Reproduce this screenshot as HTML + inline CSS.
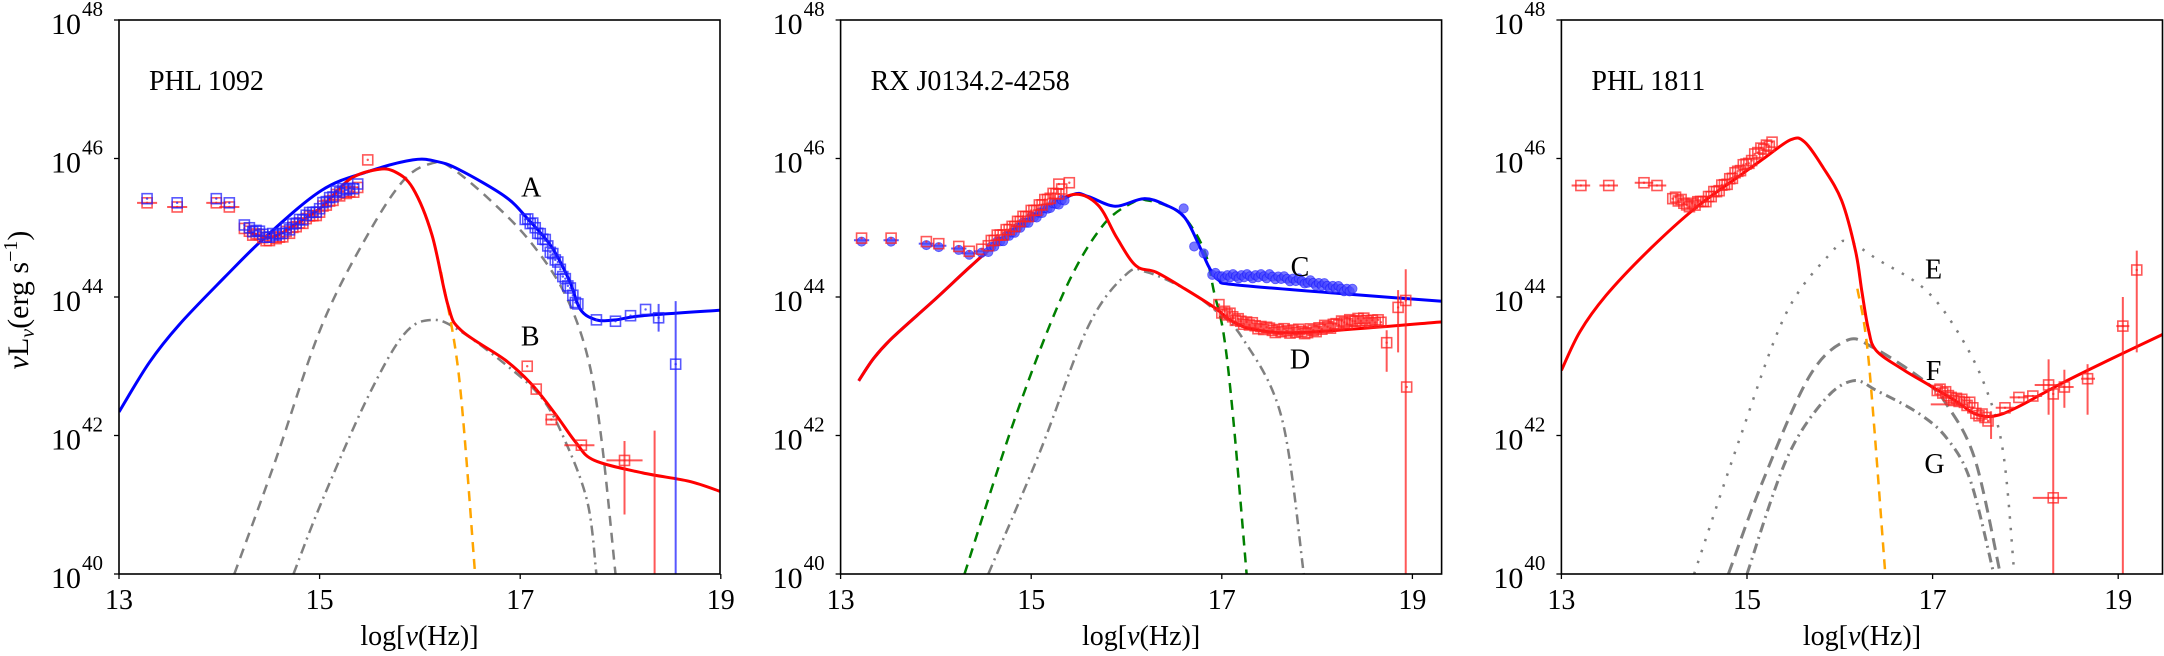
<!DOCTYPE html>
<html><head><meta charset="utf-8">
<style>
html,body{margin:0;padding:0;background:#fff;}
svg{display:block;}
text{font-family:"Liberation Serif","DejaVu Serif",serif;}
</style></head>
<body>
<svg id="s" width="2164" height="656" viewBox="0 0 2164 656" xmlns="http://www.w3.org/2000/svg" font-family="Liberation Serif, DejaVu Serif, serif">
</svg>
<script>
const NS="http://www.w3.org/2000/svg";
const svg=document.getElementById('s');
const FF='"Liberation Serif","DejaVu Serif",serif';
const P=[{x0:119,s:100.3,r:720,t:"PHL 1092"},{x0:840.6,s:95.3,r:1441.6,t:"RX J0134.2-4258"},{x0:1561.4,s:92.8,r:2162.5,t:"PHL 1811"}];
const Y=ly=>574-(ly-40)*69.25;
function el(n,a,parent){const e=document.createElementNS(NS,n);for(const k in a)e.setAttribute(k,a[k]);if(n==='text'){e.setAttribute('font-family',FF);}(parent||svg).appendChild(e);return e;}
function X(p,lx){return P[p].x0+(lx-13)*P[p].s;}
function crPath(pts){
  if(pts.length<2)return "";
  let d="M"+pts[0][0].toFixed(1)+","+pts[0][1].toFixed(1);
  for(let i=0;i<pts.length-1;i++){
    const p0=pts[i-1]||pts[i],p1=pts[i],p2=pts[i+1],p3=pts[i+2]||p2;
    const c1=[p1[0]+(p2[0]-p0[0])/6,p1[1]+(p2[1]-p0[1])/6];
    const c2=[p2[0]-(p3[0]-p1[0])/6,p2[1]-(p3[1]-p1[1])/6];
    d+=" C"+c1.map(v=>v.toFixed(1))+" "+c2.map(v=>v.toFixed(1))+" "+p2[0].toFixed(1)+","+p2[1].toFixed(1);
  }
  return d;
}
const groups=[];
P.forEach((p,i)=>{
  const cp=el('clipPath',{id:'c'+i});
  el('rect',{x:p.x0,y:20,width:p.r-p.x0,height:554},cp);
  groups.push(el('g',{'clip-path':'url(#c'+i+')'}));
});
function curve(p,data,color,w,dash){
  const pts=data.map(d=>[X(p,d[0]),Y(d[1])]);
  const a={d:crPath(pts),fill:'none',stroke:color,'stroke-width':w,'stroke-linejoin':'round'};
  if(dash)a['stroke-dasharray']=dash;
  el('path',a,groups[p]);
}
function sq(p,lx,ly,color,op){
  const x=X(p,lx),y=Y(ly);
  el('rect',{x:x-5,y:y-5,width:10,height:10,fill:'none',stroke:color,'stroke-width':1.6,opacity:op||0.75},groups[p]);
  el('circle',{cx:x,cy:y,r:1.2,fill:color,opacity:op||0.75},groups[p]);
}
function circ(p,lx,ly){
  const x=X(p,lx),y=Y(ly);
  el('circle',{cx:x,cy:y,r:4.5,fill:'#4a4aff',stroke:'#2222ff','stroke-width':1,opacity:0.75},groups[p]);
}
function eb(p,lx,ly,x1,x2,y1,y2,color){
  const x=X(p,lx),y=Y(ly);
  if(x1!=null)el('line',{x1:X(p,x1),x2:X(p,x2),y1:y,y2:y,stroke:color,'stroke-width':2,opacity:0.75},groups[p]);
  if(y1!=null)el('line',{x1:x,x2:x,y1:Y(y1),y2:Y(y2),stroke:color,'stroke-width':2,opacity:0.75},groups[p]);
}
function cluster(p,path,step,off,fn){
  for(let i=0;i<path.length-1;i++){
    const [a,b]=[path[i],path[i+1]];
    const n=Math.max(1,Math.round((b[0]-a[0])/step));
    for(let k=0;k<n;k++){const t=k/n;const j=((i*7+k*13)%5-2)*0.015;
      fn(p,a[0]+(b[0]-a[0])*t,a[1]+(b[1]-a[1])*t+off+j);}
  }
}
const R='#ff2020',B='#2020ff';
// ---------- Panel 1 ----------
curve(0,[[14.15,40],[14.56,41.64],[15.02,43.58],[15.48,44.9],[15.84,45.69],[16.12,45.93],[16.3,45.88],[16.7,45.4],[17.1,44.8],[17.44,44.06],[17.67,43.15],[17.81,41.95],[17.95,40]],'#808080',2.5,'10,7');
curve(0,[[14.74,40],[15.02,41.04],[15.48,42.55],[15.84,43.46],[16.12,43.67],[16.39,43.52],[16.85,43.03],[17.21,42.55],[17.44,41.95],[17.67,41.04],[17.76,40]],'#808080',2.5,'10,5,2,5');
curve(0,[[16.21,44.36],[16.39,42.85],[16.55,40]],'orange',2.5,'10,7');
curve(0,[[13,42.34],[13.3,43.05],[13.6,43.6],[14.05,44.28],[14.47,44.88],[15.02,45.54],[15.48,45.81],[15.93,45.98],[16.16,45.96],[16.39,45.84],[16.85,45.45],[17.08,45.12],[17.31,44.73],[17.49,44.24],[17.6,43.82],[17.76,43.67],[17.95,43.67],[18.22,43.73],[19,43.81]],'#0000ff',3);
curve(0,[[14.29,44.94],[14.51,44.86],[14.74,45.03],[15.02,45.3],[15.3,45.7],[15.57,45.84],[15.75,45.81],[15.93,45.57],[16.12,44.9],[16.28,43.88],[16.41,43.52],[16.85,43.09],[17.12,42.73],[17.35,42.31],[17.56,41.89],[17.74,41.64],[18.22,41.46],[18.68,41.34],[19,41.19]],'#ff0000',3);
[[13.28,45.39],[13.58,45.33],[13.97,45.39],[14.1,45.33]].forEach(d=>{eb(0,d[0],d[1]-0.03,d[0]-0.1,d[0]+0.1,null,null,R);sq(0,d[0],d[1]-0.03,R);sq(0,d[0],d[1]+0.03,B);});
const c1=[[14.25,45.05],[14.3,44.98],[14.4,44.9],[14.5,44.86],[14.6,44.88],[14.7,44.98],[14.8,45.1],[14.9,45.17],[15.0,45.27],[15.1,45.4],[15.2,45.52],[15.3,45.55],[15.42,45.62]];
cluster(0,c1,0.035,-0.03,(p,x,y)=>sq(p,x,y,R));
cluster(0,c1,0.035,0.02,(p,x,y)=>sq(p,x,y,B));
sq(0,15.48,45.98,R);
cluster(0,[[17.05,45.15],[17.15,45.0],[17.25,44.8],[17.35,44.55],[17.45,44.25],[17.55,43.95],[17.6,43.82]],0.025,0,(p,x,y)=>sq(p,x,y,B));
[[17.76,43.67],[17.95,43.65],[18.1,43.73],[18.25,43.82]].forEach(d=>sq(0,d[0],d[1],B));
eb(0,18.38,43.7,null,null,43.5,43.9,B);sq(0,18.38,43.7,B);
eb(0,18.55,43.03,null,null,43.94,40,B);sq(0,18.55,43.03,B);
sq(0,17.07,43.0,R);sq(0,17.16,42.67,R);eb(0,17.31,42.23,17.25,17.38,null,null,R);sq(0,17.31,42.23,R);
eb(0,17.61,41.86,17.44,17.74,null,null,R);sq(0,17.61,41.86,R);
eb(0,18.04,41.64,17.86,18.22,41.92,40.86,R);sq(0,18.04,41.64,R);
eb(0,18.34,40,null,null,42.07,40,R);
// ---------- Panel 2 ----------
curve(1,[[14.3,40],[14.83,42.25],[15.34,44.06],[15.75,45.03],[16.1,45.39],[16.2,45.4],[16.4,45.33],[16.61,45.15],[16.82,44.66],[16.92,44.06],[17.02,43.46],[17.12,42.25],[17.26,40]],'green',2.5,'10,7');
curve(1,[[14.55,40],[15.09,41.76],[15.6,43.58],[16.0,44.33],[16.21,44.36],[16.61,44.12],[16.92,43.82],[17.22,43.4],[17.63,42.25],[17.86,40]],'#808080',2.5,'10,5,2,5');
const low2=[[13.19,42.79],[13.35,43.12],[13.55,43.42],[13.97,43.94],[14.37,44.45],[14.68,44.82],[15.09,45.21],[15.44,45.48]];
curve(1,low2.concat([[15.6,45.45],[15.88,45.31],[16.18,45.42],[16.41,45.33],[16.61,45.15],[16.77,44.72],[16.87,44.42],[16.97,44.24],[17.12,44.18],[18.14,44.06],[19.31,43.94]]),'#0000ff',3);
curve(1,low2.concat([[15.7,45.33],[15.9,44.85],[16.1,44.45],[16.31,44.36],[16.61,44.12],[16.92,43.85],[17.12,43.64],[17.38,43.52],[17.89,43.49],[19.31,43.64]]),'#ff0000',3);
[[13.22,44.82],[13.53,44.82],[13.9,44.77],[14.03,44.74],[14.24,44.7],[14.35,44.63],[14.48,44.66]].forEach(d=>{eb(1,d[0],d[1],d[0]-0.08,d[0]+0.08,null,null,B);circ(1,d[0],d[1]-0.02);sq(1,d[0],d[1]+0.03,R);});
const c2=[[14.55,44.7],[14.8,44.95],[15.0,45.15],[15.2,45.32],[15.38,45.45]];
cluster(1,c2,0.03,-0.02,(p,x,y)=>circ(p,x,y));
cluster(1,[[14.55,44.75],[14.8,45.0],[15.0,45.2],[15.2,45.42],[15.35,45.55]],0.03,0.02,(p,x,y)=>sq(p,x,y,R));
sq(1,15.29,45.63,R);sq(1,15.4,45.65,R);
circ(1,16.6,45.28);circ(1,16.71,44.73);circ(1,16.81,44.63);
cluster(1,[[16.9,44.35],[17.0,44.3],[17.5,44.3],[17.9,44.22],[18.4,44.08]],0.03,0,(p,x,y)=>circ(p,x,y));
sq(1,16.97,43.89,R);
cluster(1,[[17.0,43.8],[17.2,43.65],[17.5,43.52],[17.9,43.5],[18.2,43.6],[18.4,43.68],[18.7,43.63]],0.03,0,(p,x,y)=>sq(p,x,y,R));
eb(1,18.73,43.34,null,null,43.52,42.92,R);sq(1,18.73,43.34,R);
eb(1,18.85,43.85,null,null,44.1,43.2,R);sq(1,18.85,43.85,R);
eb(1,18.93,43.95,null,null,44.4,40,R);sq(1,18.93,43.95,R);sq(1,18.94,42.7,R);
// ---------- Panel 3 ----------
curve(2,[[14.43,40],[14.92,41.95],[15.42,43.76],[15.92,44.66],[16.09,44.8],[16.41,44.54],[16.91,44.12],[17.26,43.52],[17.56,42.73],[17.76,41.76],[17.88,40]],'#808080',2.5,'2.5,9');
curve(2,[[14.8,40],[15.17,41.34],[15.67,42.85],[16.07,43.37],[16.36,43.27],[16.91,42.79],[17.16,42.43],[17.46,41.64],[17.73,40]],'#808080',3,'12,7');
curve(2,[[15.0,40],[15.42,41.64],[15.82,42.49],[16.14,42.79],[16.41,42.64],[16.86,42.31],[17.16,41.95],[17.41,41.34],[17.66,40]],'#808080',3,'10,5,2,5');
curve(2,[[16.19,44.12],[16.31,43.09],[16.49,40]],'orange',2.5,'10,7');
curve(2,[[13,42.94],[13.2,43.5],[13.48,44.02],[13.93,44.66],[14.43,45.27],[14.92,45.75],[15.17,45.99],[15.47,46.27],[15.62,46.24],[15.82,45.87],[16.02,45.39],[16.17,44.66],[16.24,44.06],[16.31,43.52],[16.39,43.23],[16.66,42.97],[16.96,42.73],[17.26,42.49],[17.46,42.31],[17.66,42.28],[17.9,42.4],[18.4,42.76],[18.9,43.09],[19.48,43.46]],'#ff0000',3);
[[13.21,45.61],[13.51,45.61],[13.89,45.65],[14.03,45.61]].forEach(d=>{eb(2,d[0],d[1],d[0]-0.1,d[0]+0.1,null,null,R);sq(2,d[0],d[1],R);});
cluster(2,[[14.2,45.45],[14.35,45.33],[14.5,45.35],[14.7,45.55],[14.9,45.8],[15.05,46.0],[15.15,46.15],[15.3,46.22]],0.03,0,(p,x,y)=>sq(p,x,y,R));
cluster(2,[[17.05,42.68],[17.2,42.55],[17.4,42.45],[17.5,42.3],[17.63,42.22]],0.03,0,(p,x,y)=>sq(p,x,y,R));
eb(2,17.2,42.45,16.98,17.3,null,null,R);
eb(2,17.63,42.2,null,null,42.35,41.95,R);
[[17.78,42.4],[17.93,42.55],[18.08,42.57]].forEach(d=>{eb(2,d[0],d[1],d[0]-0.1,d[0]+0.1,null,null,R);sq(2,d[0],d[1],R);});
eb(2,18.25,42.73,18.1,18.4,43.1,42.3,R);sq(2,18.25,42.73,R);sq(2,18.3,42.6,R);
eb(2,18.3,41.1,18.08,18.45,42.7,40,R);sq(2,18.3,41.1,R);
eb(2,18.42,42.7,18.35,18.52,42.95,42.4,R);sq(2,18.42,42.7,R);
eb(2,18.67,42.82,18.6,18.75,43.03,42.3,R);sq(2,18.67,42.82,R);
eb(2,19.05,43.58,18.98,19.12,44.0,40,R);sq(2,19.05,43.58,R);
eb(2,19.2,44.39,null,null,44.67,43.2,R);sq(2,19.2,44.39,R);
// ---------- Axes & text ----------
const labels=[[["A",17.11,45.45],["B",17.1,43.3]],[["C",17.82,44.3],["D",17.82,42.97]],[["E",17.01,44.27],["F",17.01,42.8],["G",17.02,41.46]]];
P.forEach((p,i)=>{
  el('rect',{x:p.x0,y:20,width:p.r-p.x0,height:554,fill:'none',stroke:'#000','stroke-width':1.6});
  [40,42,44,46,48].forEach(e=>{
    const y=Y(e);
    el('line',{x1:p.x0-5,x2:p.x0,y1:y,y2:y,stroke:'#000','stroke-width':1.3});
    const t=el('text',{x:p.x0-38,y:y+14,'font-size':30,'text-anchor':'end'});t.textContent='10';
    const s=el('text',{x:p.x0-16,y:y-4,'font-size':21,'text-anchor':'end'});s.textContent=String(e);
  });
  [13,15,17,19].forEach(v=>{
    const x=X(i,v); if(x>p.r+1)return;
    el('line',{x1:x,x2:x,y1:574,y2:579,stroke:'#000','stroke-width':1.3});
    const t=el('text',{x:x,y:609,'font-size':28,'text-anchor':'middle'});t.textContent=String(v);
  });
  const xl=el('text',{x:(p.x0+p.r)/2,y:645,'font-size':28,'text-anchor':'middle'});
  xl.innerHTML='log[<tspan font-style="italic">ν</tspan>(Hz)]';
  const tt=el('text',{x:p.x0+30,y:90,'font-size':28});tt.textContent=p.t;
  labels[i].forEach(l=>{const t=el('text',{x:X(i,l[1]),y:Y(l[2]),'font-size':28,'text-anchor':'middle'});t.textContent=l[0];});
});
const yl=el('text',{x:0,y:0,'font-size':30,'text-anchor':'middle',transform:'translate(28,300) rotate(-90)'});
yl.innerHTML='<tspan font-style="italic">ν</tspan>L<tspan font-style="italic" font-size="20" dy="6">ν</tspan><tspan dy="-6">(erg s</tspan><tspan font-size="20" dy="-11">−1</tspan><tspan dy="11">)</tspan>';
</script>
</body></html>
